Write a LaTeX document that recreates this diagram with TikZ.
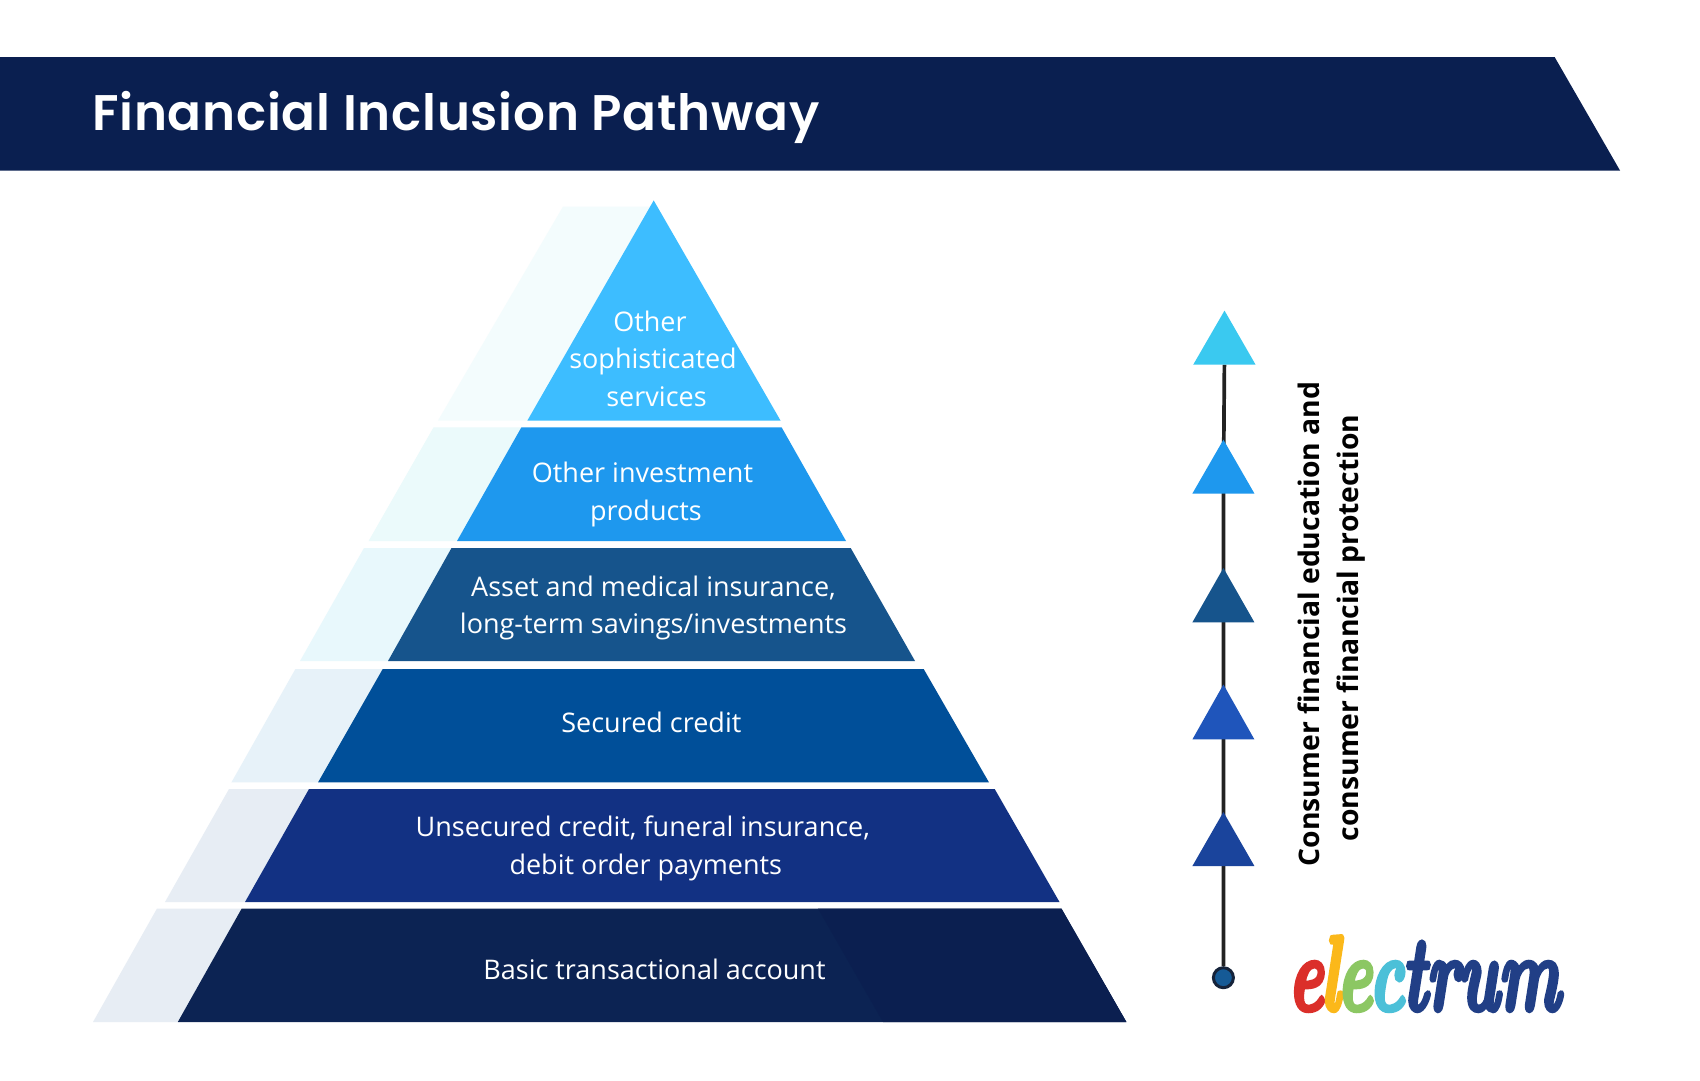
\documentclass[tikz,border=0pt]{standalone}
\usepackage{fontspec}
\setmainfont{Open Sans}
\newfontfamily\titlefont{Poppins SemiBold}[LetterSpace=1.5]
\newfontfamily\logofont{Latin Modern Roman}[BoldItalicFeatures={FakeBold=4.5}]
\definecolor{navy}{HTML}{0A1F50}
\definecolor{cA}{HTML}{3DBDFF}\definecolor{cB}{HTML}{1E98EE}\definecolor{cC}{HTML}{16548C}
\definecolor{cD}{HTML}{004F99}\definecolor{cE}{HTML}{123183}\definecolor{cF}{HTML}{0C2353}\definecolor{cFd}{HTML}{0B1F50}
\definecolor{sA}{HTML}{F3FCFD}\definecolor{sB}{HTML}{EBFAFB}\definecolor{sC}{HTML}{E8F8FC}
\definecolor{sD}{HTML}{E7F2F9}\definecolor{sE}{HTML}{E7EDF4}
\definecolor{tA}{HTML}{3AC9F0}\definecolor{tD}{HTML}{1F55BB}\definecolor{tE}{HTML}{1A449C}
\definecolor{stemc}{HTML}{222222}\definecolor{dotfill}{HTML}{155A96}\definecolor{dotline}{HTML}{15233A}
\definecolor{lred}{HTML}{DB2F2A}\definecolor{lyel}{HTML}{FBB81A}\definecolor{lgrn}{HTML}{8CC763}\definecolor{lcyn}{HTML}{4CC0D8}\definecolor{lblu}{HTML}{213F86}
\tikzset{
  lbl/.style={text=white,font=\fontsize{27}{37.4}\selectfont,align=center,anchor=base,inner sep=0pt},
  side/.style={text=black,font=\fontsize{28.3}{39.5}\bfseries\selectfont,rotate=90,anchor=base,inner sep=0pt},
  stem/.style={draw=stemc,line width=3.7pt},
}
\begin{document}
\begin{tikzpicture}[x=1pt,y=-1pt]
\useasboundingbox[fill=white] (0,0) rectangle (1700,1080);
% banner
\fill[navy] (0,57) -- (1554.6,57) -- (1620,170.5) -- (0,170.5) -- cycle;
\node[anchor=base west,inner sep=0pt,text=white,font=\titlefont\fontsize{50}{50}\selectfont] (title) at (92,130) {Financial Inclusion Pathway};
% shadows
\fill[sA] (563,206.6) -- (650,206.6) -- (527.4,420.5) -- (438,420.5) -- cycle;
\fill[sB] (433.6,427.3) -- (521.4,427.3) -- (457,541) -- (368.6,541) -- cycle;
\fill[sC] (364,548) -- (451.5,548) -- (388,661) -- (300,661) -- cycle;
\fill[sD] (295.4,669) -- (382.7,669) -- (318,782.4) -- (231.4,782.4) -- cycle;
\fill[sE] (229,789) -- (309,789) -- (245,902) -- (165,902) -- cycle;
\fill[sE] (157,908.5) -- (241.7,908.5) -- (177.8,1022) -- (93,1022) -- cycle;
% layers
\fill[cA] (653.7,200.4) -- (780.5,420.5) -- (527.4,420.5) -- cycle;
\fill[cB] (521.4,427.3) -- (781.6,427.3) -- (846,541) -- (457,541) -- cycle;
\fill[cC] (451.5,548) -- (850.7,548) -- (915,661) -- (388,661) -- cycle;
\fill[cD] (382.7,669) -- (923.7,669) -- (989,782.4) -- (318,782.4) -- cycle;
\fill[cE] (309,789) -- (994.7,789) -- (1059.5,902) -- (245,902) -- cycle;
\fill[cF] (241.7,908.5) -- (1061.4,908.5) -- (1126.4,1022) -- (177.8,1022) -- cycle;
\fill[cFd] (818,908.5) -- (1061.4,908.5) -- (1126.4,1022) -- (883,1022) -- cycle;
% labels
\node[lbl] (l1) at (653,406.2) {Other\hspace*{6pt}\\sophisticated\\\hspace*{7pt}services};
\node[lbl] (l2) at (642.5,520) {Other investment\\\hspace*{7pt}products};
\node[lbl] (l3) at (653.5,633.6) {Asset and medical insurance,\\long-term savings/investments};
\node[lbl] (l4) at (651.4,732.8) {Secured credit};
\node[lbl] (l5) at (645.8,874) {Unsecured credit, funeral insurance,\hspace*{6pt}\\debit order payments};
\node[lbl] (l6) at (654.5,979.5) {Basic transactional account};
% stem
\coordinate (b1) at (1224.4,364.7);
\coordinate (b2) at (1223.4,493.5);
\coordinate (b3) at (1223.4,622.3);
\coordinate (b4) at (1223.4,739.4);
\coordinate (b5) at (1223.4,866);
\node[circle,draw=dotline,fill=dotfill,line width=3pt,minimum size=20pt,inner sep=0pt] (dot) at (1223.4,977.7) {};
\draw[stem] (dot) -- (b5) -- (b4) -- (b3) -- (b2) -- (b1);
\fill[tA] (1224.5,310.6) -- (1255.6,364.7) -- (1193.2,364.7) -- cycle;
\fill[cB] (1223.4,439.7) -- (1254.4,493.5) -- (1192.4,493.5) -- cycle;
\fill[cC] (1223.4,568) -- (1254.4,622.3) -- (1192.4,622.3) -- cycle;
\fill[tD] (1223.4,684.5) -- (1254.4,739.4) -- (1192.4,739.4) -- cycle;
\fill[tE] (1223.4,812) -- (1254.4,866) -- (1192.4,866) -- cycle;
% side text
\node[side,align=center] (edu) at (1358.5,624) {Consumer financial education and\\consumer financial protection\hspace*{8pt}};
% logo
\node[anchor=base west,inner sep=0pt,xscale=0.625,font=\logofont\fontsize{106}{106}\bfseries\itshape\selectfont] (logo) at (1288,1010) {\textcolor{lred}{e}\kern-5pt\textcolor{lyel}{l}\kern-5pt\textcolor{lgrn}{e}\kern-5pt\textcolor{lcyn}{c}\kern-4pt\textcolor{lblu}{t\kern-2pt r\kern-2pt u\kern-2pt m}};
\end{tikzpicture}
\end{document}
